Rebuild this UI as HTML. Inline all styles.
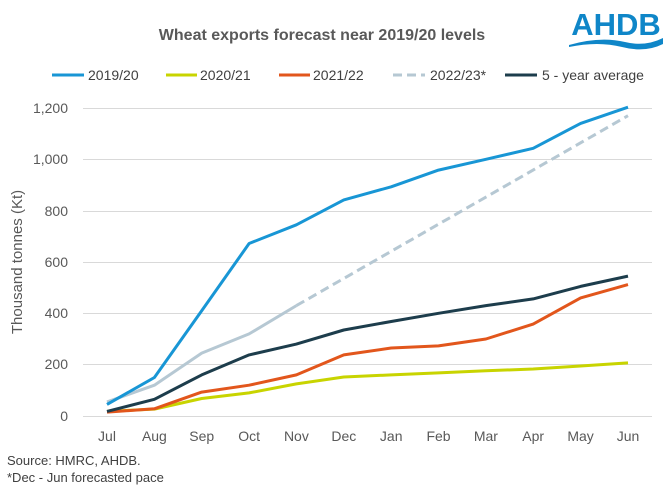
<!DOCTYPE html>
<html><head><meta charset="utf-8"><style>
body{margin:0;background:#fff;}
svg{display:block;font-family:"Liberation Sans",Arial,sans-serif;}
</style></head><body>
<svg width="671" height="492" viewBox="0 0 671 492">
<text x="322" y="40" text-anchor="middle" font-size="16" font-weight="bold" fill="#595959">Wheat exports forecast near 2019/20 levels</text>
<text x="616" y="35" text-anchor="middle" font-size="31" font-weight="bold" fill="#0f86c8">AHDB</text>
<path d="M569 45 Q600 36 625 42 Q645 47 663 38 L663 44 Q645 53 622 47 Q598 41 569 47 Z" fill="#0f86c8"/>
<g font-size="14" fill="#404040">
<line x1="52" y1="75" x2="84" y2="75" stroke="#1896d5" stroke-width="3"/><text x="88" y="80">2019/20</text>
<line x1="166" y1="75" x2="197" y2="75" stroke="#c8d400" stroke-width="3"/><text x="200" y="80">2020/21</text>
<line x1="279" y1="75" x2="310" y2="75" stroke="#e2561c" stroke-width="3"/><text x="313" y="80">2021/22</text>
<line x1="393" y1="75" x2="425" y2="75" stroke="#b6c8d3" stroke-width="3" stroke-dasharray="9,5"/><text x="430" y="80">2022/23*</text>
<line x1="505" y1="75" x2="537" y2="75" stroke="#1d3d4c" stroke-width="3"/><text x="542" y="80">5 - year average</text>
</g>
<g stroke="#d9d9d9" stroke-width="1">
<line x1="83" x2="652" y1="108.5" y2="108.5"/><line x1="83" x2="652" y1="159.5" y2="159.5"/><line x1="83" x2="652" y1="211.5" y2="211.5"/><line x1="83" x2="652" y1="262.5" y2="262.5"/><line x1="83" x2="652" y1="313.5" y2="313.5"/><line x1="83" x2="652" y1="364.5" y2="364.5"/><line x1="83" x2="652" y1="416.5" y2="416.5"/>
</g>
<g font-size="14" fill="#595959" text-anchor="end">
<text x="68" y="113">1,200</text><text x="68" y="164">1,000</text><text x="68" y="216">800</text><text x="68" y="267">600</text><text x="68" y="318">400</text><text x="68" y="369">200</text><text x="68" y="421">0</text>
</g>
<text transform="translate(22,262) rotate(-90)" text-anchor="middle" font-size="15" fill="#595959">Thousand tonnes (Kt)</text>
<g font-size="14" fill="#595959" text-anchor="middle">
<text x="107" y="441">Jul</text><text x="154.4" y="441">Aug</text><text x="201.7" y="441">Sep</text><text x="249.1" y="441">Oct</text><text x="296.4" y="441">Nov</text><text x="343.8" y="441">Dec</text><text x="391.2" y="441">Jan</text><text x="438.5" y="441">Feb</text><text x="485.9" y="441">Mar</text><text x="533.2" y="441">Apr</text><text x="580.6" y="441">May</text><text x="628" y="441">Jun</text>
</g>
<g fill="none" stroke-width="3" stroke-linejoin="round">
<polyline stroke="#b6c8d3" points="107,401.9 154.4,385.2 201.7,353.1 249.1,333.9 296.4,305.6"/>
<line stroke="#b6c8d3" stroke-dasharray="9,5" x1="296.4" y1="305.6" x2="628" y2="115.7"/>
<polyline stroke="#1896d5" points="107,404.4 154.4,377.5 201.7,310.8 249.1,243.5 296.4,224.8 343.8,199.9 391.2,186.8 438.5,170.1 485.9,159.3 533.2,148.3 580.6,123.4 628,107.2"/>
<polyline stroke="#c8d400" points="107,411.4 154.4,409.1 201.7,398.5 249.1,392.9 296.4,383.9 343.8,377 391.2,374.9 438.5,372.9 485.9,370.8 533.2,369 580.6,366 628,362.9"/>
<polyline stroke="#e2561c" points="107,412.1 154.4,408.8 201.7,392.1 249.1,385.2 296.4,374.9 343.8,354.9 391.2,348 438.5,345.9 485.9,339 533.2,324.1 580.6,297.9 628,284.6"/>
<polyline stroke="#1d3d4c" points="107,411.4 154.4,399.3 201.7,374.9 249.1,354.9 296.4,344.1 343.8,330 391.2,321.5 438.5,313.3 485.9,305.6 533.2,298.9 580.6,286.4 628,276.1"/>
</g>
<g font-size="13" fill="#404040">
<text x="7" y="465">Source: HMRC, AHDB.</text>
<text x="7" y="482">*Dec - Jun forecasted pace</text>
</g>
</svg>
</body></html>
